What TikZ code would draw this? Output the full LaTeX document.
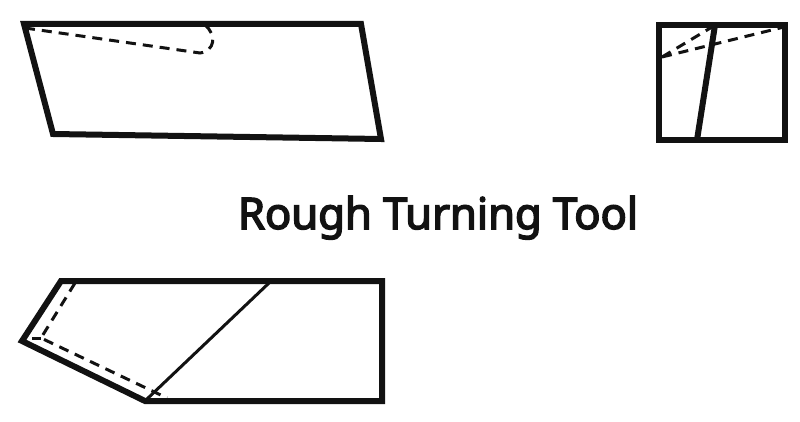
\documentclass[tikz,border=0pt]{standalone}
\usepackage{fontspec}
\setmainfont{Noto Sans}
\begin{document}
\begin{tikzpicture}[x=1pt,y=-1pt]

\tikzset{outline/.style={draw=black!93,line width=6pt,line join=miter},
	hidden/.style={draw=black!93,line width=3pt,dash pattern=on 10pt off 7pt},
	split/.style={draw=black!93,line width=3pt},
	heading/.style={font=\fontsize{43.5}{48}\selectfont,text=black!93,inner sep=0pt,anchor=base}
}
\useasboundingbox (0,0) rectangle (800,422);
%side view
\draw[outline] (24,24) -- (361,24) -- (381,139) -- (53,134) -- cycle;
\draw[hidden] (25,28) -- (200,53) .. controls (215,51) and (217,35) .. (205,25);
%end view
\draw[outline] (659,25) rectangle (785,140);
\draw[outline] (715,25) -- (697,140);
\draw[hidden] (662,57) -- (784,27);
\draw[hidden] (662,57) -- (712,27);
%top view
\draw[outline] (61,281) -- (382,281) -- (382,401) -- (145,401) -- (22,341) -- cycle;
\draw[split] (269,283) -- (147,399);
\draw[hidden] (75,283) -- (41,338) -- (167,398);
\draw[hidden] (32,338) -- (41,338);

\node[heading] (title) at (438,229) {\special{pdf: code 2 Tr 1.5 w}Rough Turning Tool\special{pdf: code 0 Tr}};
\end{tikzpicture}
\end{document}
